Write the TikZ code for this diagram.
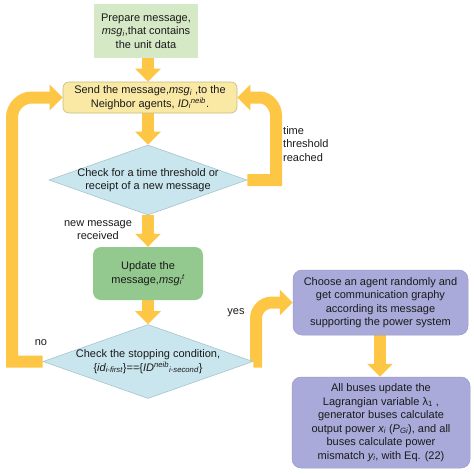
\documentclass[tikz,border=0pt]{standalone}
\usepackage{fontspec}
\setmainfont{Liberation Sans}
\usetikzlibrary{shapes.geometric,arrows.meta}
\pgfdeclarelayer{bg}
\pgfsetlayers{bg,main}
\definecolor{lgreen}{HTML}{D6E9C6}
\definecolor{mgreen}{HTML}{93C98E}
\definecolor{yel}{HTML}{F9E9A4}
\definecolor{yelb}{HTML}{C9BB7D}
\definecolor{lblue}{HTML}{C9E6EF}
\definecolor{lblueb}{HTML}{A8C4CC}
\definecolor{lav}{HTML}{A9AAD9}
\definecolor{lavb}{HTML}{9A9BCB}
\definecolor{arrowc}{HTML}{FDC645}
\definecolor{txt}{HTML}{1A1A1A}
\tikzset{
  base/.style={font=\fontsize{11}{13.5}\selectfont, text=txt, align=center, inner sep=0pt},
  sqbox/.style={base, fill=lgreen, minimum width=104pt, minimum height=54pt},
  sendbox/.style={base, fill=yel, draw=yelb, line width=0.6pt, rounded corners=6pt, minimum width=174pt, minimum height=31pt},
  updbox/.style={base, fill=mgreen, rounded corners=8pt, minimum width=110pt, minimum height=53pt},
  lavbox/.style={base, fill=lav, draw=lavb, line width=0.5pt, rounded corners=9pt},
  decis/.style={diamond, fill=lblue, draw=lblueb, line width=0.6pt, inner sep=0pt},
  lbl/.style={base},
  flow/.style={draw=arrowc, line width=12pt, -{Triangle[width=25pt,length=13pt]}}
}
\begin{document}
\begin{tikzpicture}[x=1pt,y=-1pt]
\useasboundingbox (0,0) rectangle (474,474);

\node[sqbox] (b1) at (146,31) {Prepare message,\\\textit{msg\textsubscript{i}},that contains\\the unit data};
\node[sendbox] (b2) at (150,97.5) {Send the message,\textit{msg\textsubscript{i}} ,to the\\Neighbor agents, \textit{ID\textsubscript{i}\textsuperscript{neib}}.};
\node[decis, minimum width=198pt, minimum height=70pt] (d1) at (148,180) {};
\node[base] (d1t) at (d1.center) {Check for a time threshold or\\receipt of a new message};
\node[updbox] (b3) at (148,273.5) {Update the\\message,\textit{msg\textsubscript{i}\textsuperscript{t}}};
\node[decis, minimum width=210pt, minimum height=74pt] (d2) at (148,361.5) {};
\node[base] (d2t) at (d2.center) {Check the stopping condition,\\\{\textit{id\textsubscript{i-first}}\}==\{\textit{ID\textsuperscript{neib}\textsubscript{i-second}}\}};
\node[lavbox, minimum width=175pt, minimum height=65pt] (b4) at (380.5,302.5) {Choose an agent randomly and\\get communication graphy\\according its message\\supporting the power system};
\node[lavbox, minimum width=178pt, minimum height=91pt] (b5) at (381,422.5) {All buses update the\\Lagrangian variable λ\textsubscript{1} ,\\generator buses calculate\\output power \textit{x\textsubscript{i}} (\textit{P\textsubscript{Gi}}), and all\\buses calculate power\\mismatch \textit{y\textsubscript{i}}, with Eq. (22)};

\node[lbl, align=left, anchor=north west] (l1) at (283,126) {time\\threshold\\reached};
\node[lbl] (l2) at (98,230) {new message\\received};
\node[lbl] (l3) at (41,343) {no};
\node[lbl] (l4) at (236,313) {yes};

\begin{pgfonlayer}{bg}
\draw[flow] (b1.south) ++(2,0) coordinate (a1) -- (a1 |- b2.north);
\draw[flow] (d1.north |- b2.south) -- (d1.north);
\draw[flow] (d1.south) -- (d1.south |- b3.north);
\draw[flow] (b3.south) -- (d2.north);
\draw[flow] (b4.south -| 380,0) coordinate (a5) -- (a5 |- b5.north);
\draw[flow] (d1.east) -- (276,180) -- (276,115.5) .. controls (276,106.7) and (268.8,97.5) .. (260,97.5) -- (b2.east);
\draw[flow] (d2.west) -- (12,361.5) -- (12,117.5) .. controls (12,106.5) and (21,97.5) .. (32,97.5) -- (b2.west);
\draw[flow] (d2.east) -- (256,361.5) -- (256,318.5) .. controls (256,309.7) and (263.2,302.5) .. (272,302.5) -- (b4.west);
\end{pgfonlayer}
\end{tikzpicture}
\end{document}
